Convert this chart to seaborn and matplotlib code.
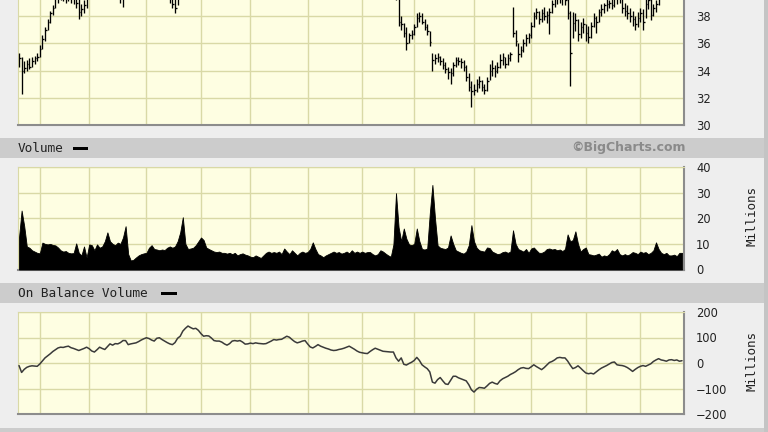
import numpy as np
import matplotlib
matplotlib.use("Agg")
import matplotlib.pyplot as plt
import seaborn as sns
from matplotlib.patches import Rectangle

# ---------------- data ----------------
close = [34.9, 34.0, 34.2, 34.5, 34.3, 34.7, 34.9, 35.0, 35.6, 36.3,
         37.0, 37.6, 38.2, 38.6, 39.3, 39.6, 39.8, 39.6, 39.4, 39.5,
         39.7, 39.3, 39.0, 38.3, 38.5, 38.8, 39.4, 40.0, 40.5, 40.6,
         40.9, 40.4, 40.2, 40.6, 41.0, 41.2, 40.8, 40.3, 40.0, 39.5,
         39.4, 40.0, 40.4, 40.7, 41.0, 41.2, 41.5, 41.7, 41.8, 41.4,
         41.1, 40.8, 40.6, 40.5, 40.2, 40.0, 39.9, 39.8, 39.3, 38.9,
         38.6, 39.5, 40.2, 40.8, 41.3, 41.6, 41.4, 41.1, 41.3, 41.0,
         40.6, 40.4, 40.5, 40.7, 40.4, 40.2, 40.3, 40.5, 40.6, 40.3,
         40.1, 40.4, 40.8, 41.0, 40.8, 40.9, 40.6, 40.3, 40.4, 40.6,
         40.5, 40.7, 40.6, 40.5, 40.4, 40.6, 40.9, 41.2, 41.5, 41.4,
         41.6, 41.7, 42.0, 42.3, 42.1, 41.8, 41.4, 41.1, 41.3, 41.5,
         41.6, 41.0, 40.6, 40.4, 40.7, 41.0, 40.8, 40.6, 40.5, 40.3,
         40.2, 40.1, 40.2, 40.3, 40.4, 40.6, 40.8, 41.0, 40.7, 40.5,
         40.2, 40.0, 40.0, 39.9, 39.9, 40.3, 40.6, 40.9, 40.7, 40.5,
         40.3, 40.2, 40.2, 40.1, 40.1, 39.8, 37.6, 37.4, 36.8, 36.0,
         36.6, 36.7, 37.2, 37.9, 38.0, 37.6, 37.2, 36.9, 36.1, 34.8,
         34.9, 35.0, 34.7, 34.4, 34.1, 33.9, 33.8, 34.4, 34.8, 34.7,
         34.6, 34.3, 33.5, 32.8, 32.5, 32.6, 33.0, 33.2, 32.8, 32.6,
         33.2, 34.0, 34.2, 34.0, 34.3, 34.8, 35.0, 34.5, 34.9, 35.2,
         36.8, 36.2, 35.2, 35.5, 36.0, 36.4, 36.6, 37.3, 38.0, 38.3,
         37.8, 38.2, 38.0, 38.1, 38.3, 38.9, 39.3, 39.4, 39.5, 39.6,
         39.2, 38.2, 35.3, 37.5, 37.7, 36.7, 37.2, 37.4, 36.8, 36.5,
         37.3, 37.9, 37.6, 38.3, 38.5, 38.8, 38.9, 39.0, 38.8, 39.3,
         39.5, 39.6, 38.6, 38.4, 38.2, 38.0, 37.8, 37.4, 37.9, 38.2,
         37.6, 38.9, 39.2, 38.1, 38.6, 38.9, 39.4, 39.9, 40.2, 40.3,
         40.5, 40.2, 40.3, 40.6, 40.7, 40.5]

high = [35.3, 35.0, 34.7, 34.8, 34.9, 35.0, 35.1, 35.3, 35.9, 36.6,
        37.2, 37.8, 38.4, 38.8, 39.6, 40.0, 40.2, 40.3, 40.1, 40.0,
        40.2, 40.0, 39.8, 39.4, 38.9, 39.2, 39.8, 40.4, 40.8, 41.0,
        41.2, 41.0, 40.7, 40.9, 41.4, 41.6, 41.3, 40.9, 40.6, 40.0,
        39.8, 40.3, 40.8, 41.0, 41.3, 41.5, 41.8, 42.0, 42.2, 42.0,
        41.7, 41.4, 41.2, 41.0, 40.8, 40.6, 40.4, 40.3, 40.0, 39.6,
        39.4, 39.8, 40.7, 41.3, 41.8, 42.1, 41.9, 41.6, 41.8, 41.5,
        41.1, 40.9, 41.0, 41.2, 40.9, 40.7, 40.8, 41.0, 41.1, 40.8,
        40.6, 40.9, 41.3, 41.5, 41.3, 41.4, 41.1, 40.8, 40.9, 41.1,
        41.0, 41.2, 41.1, 41.0, 40.9, 41.1, 41.4, 41.7, 42.0, 41.9,
        42.1, 42.2, 42.5, 42.8, 42.6, 42.3, 41.9, 41.6, 41.8, 42.0,
        42.1, 41.5, 41.1, 40.9, 41.2, 41.5, 41.3, 41.1, 41.0, 40.8,
        40.7, 40.6, 40.7, 40.8, 40.9, 41.1, 41.3, 41.5, 41.2, 41.0,
        40.7, 40.5, 40.5, 40.4, 40.4, 40.8, 41.1, 41.4, 41.2, 41.0,
        40.8, 40.7, 40.7, 40.6, 40.6, 40.5, 40.2, 38.0, 37.5, 37.2,
        36.8, 37.0, 37.4, 38.2, 38.3, 38.2, 37.8, 37.4, 36.9, 35.3,
        35.2, 35.3, 35.1, 34.9, 34.6, 34.3, 34.2, 34.6, 35.0, 35.0,
        34.9, 34.8, 34.4, 33.8, 33.2, 33.0, 33.4, 33.6, 33.3, 33.0,
        33.5, 34.5, 34.8, 34.4, 34.6, 35.2, 35.3, 35.0, 35.2, 35.4,
        38.7, 37.0, 36.0, 35.8, 36.3, 36.7, 36.8, 37.6, 38.3, 38.6,
        38.4, 38.5, 38.7, 38.4, 38.6, 39.2, 39.6, 39.8, 40.0, 39.9,
        39.7, 39.5, 38.4, 38.3, 38.2, 37.8, 37.6, 37.9, 37.4, 37.3,
        37.6, 38.2, 38.0, 38.5, 38.9, 39.0, 39.3, 39.2, 39.5, 39.6,
        39.8, 40.0, 39.8, 39.0, 38.8, 38.6, 38.4, 38.0, 38.3, 38.6,
        38.5, 39.3, 39.6, 39.3, 38.9, 39.2, 39.7, 40.2, 40.5, 40.6,
        40.8, 40.7, 40.6, 40.9, 41.0, 40.9]

low = [34.3, 32.3, 33.8, 34.0, 34.1, 34.3, 34.5, 34.7, 35.0, 35.6,
       36.2, 37.0, 37.5, 38.1, 38.6, 39.0, 39.2, 39.1, 39.0, 39.1,
       39.0, 38.9, 38.6, 37.8, 38.0, 38.2, 38.6, 39.3, 39.8, 40.1,
       40.2, 40.0, 39.8, 39.9, 40.3, 40.6, 40.4, 39.8, 39.6, 39.0,
       38.7, 39.3, 39.7, 40.0, 40.3, 40.6, 40.9, 41.1, 41.2, 41.0,
       40.8, 40.5, 40.2, 40.0, 39.8, 39.6, 39.5, 39.4, 39.0, 38.6,
       38.2, 38.8, 39.7, 40.3, 40.8, 41.1, 40.9, 40.6, 40.8, 40.5,
       40.1, 39.9, 40.0, 40.2, 39.9, 39.7, 39.8, 40.0, 40.1, 39.8,
       39.6, 39.9, 40.3, 40.5, 40.3, 40.4, 40.1, 39.8, 39.9, 40.1,
       40.0, 40.2, 40.1, 40.0, 39.9, 40.1, 40.4, 40.7, 41.0, 40.9,
       41.1, 41.2, 41.5, 41.8, 41.6, 41.3, 40.9, 40.6, 40.8, 41.0,
       41.1, 40.5, 40.1, 39.9, 40.2, 40.5, 40.3, 40.1, 40.0, 39.8,
       39.7, 39.6, 39.7, 39.8, 39.9, 40.1, 40.3, 40.5, 40.2, 40.0,
       39.7, 39.5, 39.5, 39.4, 39.4, 39.8, 40.1, 40.4, 40.2, 40.0,
       39.8, 39.7, 39.7, 39.6, 39.6, 39.2, 37.3, 37.0, 36.5, 35.5,
       36.0, 36.3, 36.6, 37.2, 37.6, 37.4, 37.0, 36.6, 35.8, 34.0,
       34.5, 34.6, 34.4, 34.1, 33.8, 33.4, 33.0, 33.6, 34.3, 34.4,
       34.2, 34.0, 33.2, 32.5, 31.3, 32.2, 32.4, 32.7, 32.5, 32.3,
       32.5, 33.3, 33.6, 33.5, 33.8, 34.2, 34.4, 34.2, 34.4, 34.7,
       36.5, 35.8, 34.6, 35.0, 35.4, 35.8, 36.0, 36.4, 37.2, 37.8,
       37.4, 37.6, 37.7, 37.5, 36.7, 38.2, 38.7, 38.9, 39.0, 38.8,
       38.8, 37.8, 32.9, 36.4, 36.9, 36.2, 36.4, 36.8, 36.2, 36.0,
       36.4, 37.2, 36.8, 37.6, 38.0, 38.2, 38.4, 38.6, 38.5, 38.7,
       38.9, 39.0, 38.2, 38.0, 37.8, 37.6, 37.3, 37.0, 37.2, 37.6,
       37.0, 37.9, 38.5, 37.7, 38.0, 38.3, 38.8, 39.3, 39.6, 39.8,
       39.9, 39.8, 39.7, 39.9, 40.1, 40.0]

volume = [12.5, 23, 17, 9, 8.5, 7.5, 7, 6.5, 6.3, 10.5,
          10, 9.8, 10, 9.6, 9.4, 8.6, 7.5, 7, 7.2, 6.5,
          6.3, 6.4, 10.2, 6.5, 5.5, 9, 4.7, 9.8, 9.5, 7.5,
          9.8, 8.5, 9, 11, 14.5, 11, 10, 9.5, 10.5, 10,
          12.5, 16.9, 6, 3.5, 3.8, 4.7, 5.5, 6, 6.3, 6.5,
          8.5, 9.5, 8, 7.8, 7.5, 7.8, 7.6, 8.5, 9, 8.5,
          9, 11, 14.5, 20.4, 10, 8, 8.2, 8.5, 9.5, 11,
          12.5, 11.5, 8.6, 8, 7.5, 7, 6.8, 7, 6.5, 6.5,
          6.2, 6.5, 6, 6.5, 5.5, 6, 6.3, 5.8, 5.5, 5,
          4.8, 5.5, 5, 4.5, 5.5, 6.5, 7, 6.5, 6.8, 6.5,
          7, 6, 8.2, 7, 6, 7.5, 6.5, 5.5, 6.5, 7,
          6.5, 6.8, 8, 10.6, 8, 6, 5.5, 4.8, 5.5, 6,
          6.5, 7, 6.5, 6.8, 6.2, 6.5, 7, 6.3, 7.5, 6.5,
          7, 6.5, 7, 6.5, 6.8, 6.8, 6, 5.5, 6, 7.5,
          7, 6.2, 5.5, 5, 9.8, 29.8, 16.5, 11, 16, 12,
          9.8, 9.5, 10, 16, 11, 8, 7.8, 8.2, 22, 33,
          20, 9.4, 8.5, 8.2, 8, 8.6, 13.3, 10, 7.5, 7,
          6.5, 6.2, 7, 9.5, 17.3, 11, 8.5, 7.5, 7.2, 7,
          8.6, 8.4, 7, 6.5, 6, 6.2, 6.8, 7, 6.5, 7,
          15.3, 10, 8, 7.5, 7, 8, 6.5, 8.2, 8.6, 7.5,
          6.5, 6.5, 7, 8, 8.2, 7.8, 8, 7.5, 7.8, 7.2,
          8, 13.7, 11, 11.5, 14.9, 10, 7, 8, 8.6, 6,
          5.8, 5.5, 5.8, 6.2, 5, 5.5, 5.2, 6, 7.5, 7,
          8, 6, 5.5, 6, 5.5, 6, 6.8, 6.5, 6, 7,
          6.5, 6.8, 6, 6.5, 7.5, 10.6, 8, 6.5, 6, 6.5,
          5.5, 5.5, 5.8, 5.2, 6.5, 6.5]

obv = [-10, -37, -25, -17, -13, -11, -12, -13, -4, 8,
       20, 28, 36, 45, 52, 59, 62, 61, 64, 66,
       60, 57, 53, 49, 53, 57, 62, 56, 47, 43,
       52, 62, 57, 53, 64, 75, 70, 76, 75, 80,
       88, 88, 72, 75, 77, 79, 84, 90, 95, 99,
       96, 90, 86, 97, 99, 92, 86, 80, 75, 72,
       80, 97, 105, 125, 136, 145, 139, 134, 136, 128,
       115, 105, 107, 106, 98, 88, 86, 86, 82, 75,
       70, 76, 86, 88, 86, 88, 82, 74, 75, 78,
       76, 79, 77, 76, 75, 76, 81, 86, 92, 90,
       92, 93, 99, 105, 101, 92, 84, 79, 82, 86,
       88, 75, 63, 59, 65, 72, 66, 62, 58, 55,
       51, 49, 50, 53, 55, 58, 62, 66, 60, 54,
       47, 42, 40, 38, 37, 45, 52, 58, 54, 50,
       46, 45, 44, 43, 43, 20, 7, 20, -5, -8,
       -2, 3, 10, 22, 10, -7, -15, -22, -35, -75,
       -79, -65, -57, -70, -82, -84, -68, -52, -52, -58,
       -62, -66, -70, -85, -105, -114, -103, -96, -97, -99,
       -90, -80, -75, -80, -83, -70, -62, -57, -52, -45,
       -40, -34, -26, -20, -18, -21, -22, -15, -7, -14,
       -20, -26, -18, -8, 2, 6, 12, 20, 22, 20,
       20, 8, -8, -22, -18, -11, -20, -30, -39, -42,
       -40, -43, -35, -27, -20, -15, -10, -4, 2, 4,
       -7, -9, -10, -13, -18, -25, -33, -25, -18, -13,
       -10, -13, -8, -3, 6, 12, 17, 12, 10, 7,
       12, 13, 10, 12, 7, 9]

month_starts = [8, 27, 49, 70, 89, 111, 132, 152, 175, 197, 218, 239]
price_ticks = [30, 32, 34, 36, 38]
vol_ticks = [0, 10, 20, 30, 40]
obv_ticks = [-200, -100, 0, 100, 200]

# ---------------- styling ----------------
sns.set_style("white")
W, H = 768, 432
BG = "#EEEEEE"
BAND = "#CCCCCC"
PANEL = "#FEFEE2"
GRID = "#D9D9A6"
EDGE = "#8C8C8C"
TXT = "#222222"

fig = plt.figure(figsize=(W / 100, H / 100), dpi=100)
fig.patch.set_facecolor(BG)


def px_axes(x0, y0, x1, y1):
    return fig.add_axes([x0 / W, 1 - y1 / H, (x1 - x0) / W, (y1 - y0) / H])


def band(y0, y1):
    fig.add_artist(Rectangle((0, 1 - y1 / H), 764 / W, (y1 - y0) / H,
                             transform=fig.transFigure, facecolor=BAND,
                             edgecolor="none", zorder=0.5))


def style_panel(ax, yticks, ylim):
    ax.set_facecolor(PANEL)
    ax.set_xlim(-0.385, 255.77)
    ax.set_ylim(*ylim)
    ax.set_xticks(month_starts)
    ax.set_yticks(yticks)
    ax.grid(True, color=GRID, lw=1.0, zorder=0)
    ax.set_axisbelow(True)
    ax.yaxis.tick_right()
    ax.tick_params(axis="x", length=0, labelbottom=False)
    ax.tick_params(axis="y", length=0, pad=8.6, labelsize=8.3,
                   labelcolor=TXT)
    for s in ("bottom", "right"):
        ax.spines[s].set_color(EDGE)
        ax.spines[s].set_linewidth(1.5)
    for s in ("top", "left"):
        ax.spines[s].set_color(GRID)
        ax.spines[s].set_linewidth(0.8)
    ax.set_xlabel("")
    ax.set_ylabel("")


days = np.arange(len(close))

# price panel (top part cropped off the image)
ax1 = px_axes(18, -25, 684, 125)
style_panel(ax1, price_ticks, (30, 30 + 150 / 13.6))
ax1.spines["top"].set_visible(False)
ax1.vlines(days, low, high, color="black", lw=0.95, zorder=3)
ax1.hlines(close, days, days + 0.6, color="black", lw=0.95, zorder=3)
ax1.set_yticklabels([str(t) for t in price_ticks])

# volume panel
ax2 = px_axes(18, 167, 684, 269.5)
style_panel(ax2, vol_ticks, (0, 40))
ax2.fill_between(days, 0, volume, color="black", lw=0.6,
                 edgecolor="black", zorder=3)

# on balance volume panel
ax3 = px_axes(18, 312, 684, 414)
style_panel(ax3, obv_ticks, (-200, 200))
sns.lineplot(x=days, y=obv, ax=ax3, color="#3A3A3A", lw=1.1, zorder=3)
style_panel(ax3, obv_ticks, (-200, 200))

# header bands and texts
band(138, 158)
band(283, 303)
band(428, 432)
fig.add_artist(Rectangle((764 / W, 0), 4 / W, 1, transform=fig.transFigure,
                         facecolor="#C4C4C4", edgecolor="none", zorder=0.6))

mono = "DejaVu Sans Mono"
fig.text(18 / W, 1 - 148.5 / H, "Volume", family=mono, fontsize=9.2,
         color=TXT, ha="left", va="center", zorder=2)
fig.add_artist(Rectangle((73 / W, 1 - 150.3 / H), 15 / W, 3.3 / H,
                         transform=fig.transFigure, facecolor="black",
                         edgecolor="none", zorder=2))
fig.text(686 / W, 1 - 148 / H, "\u00a9BigCharts.com", fontsize=9,
         fontweight="bold", color="#8A8A8A", ha="right", va="center",
         zorder=2)

fig.text(18 / W, 1 - 293.5 / H, "On Balance Volume", family=mono,
         fontsize=9.2, color=TXT, ha="left", va="center", zorder=2)
fig.add_artist(Rectangle((161 / W, 1 - 295.3 / H), 16 / W, 3.3 / H,
                         transform=fig.transFigure, facecolor="black",
                         edgecolor="none", zorder=2))

for yc in (216, 361):
    fig.text(752 / W, 1 - yc / H, "Millions", family=mono, fontsize=9,
             color=TXT, rotation=90, ha="center", va="center", zorder=2)

fig.savefig("out.png", dpi=100, facecolor=fig.get_facecolor())
